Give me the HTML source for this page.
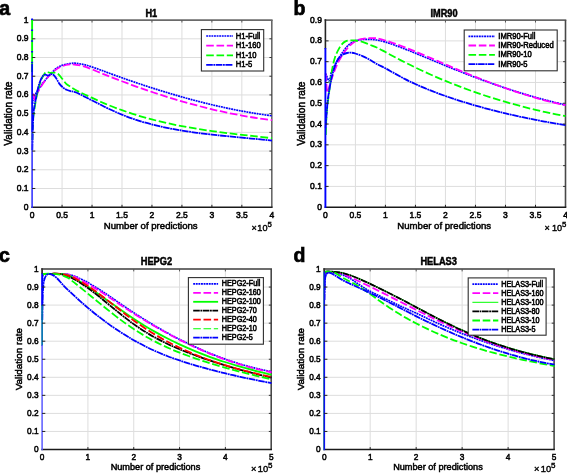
<!DOCTYPE html>
<html><head><meta charset="utf-8"><title>Validation rate figure</title>
<style>
html,body{margin:0;padding:0;background:#fff;}
svg{display:block;font-family:"Liberation Sans",Arial,Helvetica,sans-serif;fill:#000;}
</style></head><body>
<svg width="567" height="473" viewBox="0 0 567 473">
<rect width="567" height="473" fill="#fff"/>
<defs><clipPath id="ca"><rect x="31.10" y="19.10" width="241.70" height="189.10"/></clipPath><clipPath id="cb"><rect x="324.40" y="19.10" width="242.10" height="189.10"/></clipPath><clipPath id="cc"><rect x="41.10" y="268.00" width="231.10" height="182.50"/></clipPath><clipPath id="cd"><rect x="323.20" y="268.00" width="231.90" height="182.50"/></clipPath></defs>
<line x1="62.06" y1="20.10" x2="62.06" y2="207.20" stroke="#dddddd" stroke-width="1.00" />
<line x1="92.03" y1="20.10" x2="92.03" y2="207.20" stroke="#dddddd" stroke-width="1.00" />
<line x1="121.99" y1="20.10" x2="121.99" y2="207.20" stroke="#dddddd" stroke-width="1.00" />
<line x1="151.95" y1="20.10" x2="151.95" y2="207.20" stroke="#dddddd" stroke-width="1.00" />
<line x1="181.91" y1="20.10" x2="181.91" y2="207.20" stroke="#dddddd" stroke-width="1.00" />
<line x1="211.88" y1="20.10" x2="211.88" y2="207.20" stroke="#dddddd" stroke-width="1.00" />
<line x1="241.84" y1="20.10" x2="241.84" y2="207.20" stroke="#dddddd" stroke-width="1.00" />
<line x1="32.10" y1="188.49" x2="271.80" y2="188.49" stroke="#dddddd" stroke-width="1.00" />
<line x1="32.10" y1="169.78" x2="271.80" y2="169.78" stroke="#dddddd" stroke-width="1.00" />
<line x1="32.10" y1="151.07" x2="271.80" y2="151.07" stroke="#dddddd" stroke-width="1.00" />
<line x1="32.10" y1="132.36" x2="271.80" y2="132.36" stroke="#dddddd" stroke-width="1.00" />
<line x1="32.10" y1="113.65" x2="271.80" y2="113.65" stroke="#dddddd" stroke-width="1.00" />
<line x1="32.10" y1="94.94" x2="271.80" y2="94.94" stroke="#dddddd" stroke-width="1.00" />
<line x1="32.10" y1="76.23" x2="271.80" y2="76.23" stroke="#dddddd" stroke-width="1.00" />
<line x1="32.10" y1="57.52" x2="271.80" y2="57.52" stroke="#dddddd" stroke-width="1.00" />
<line x1="32.10" y1="38.81" x2="271.80" y2="38.81" stroke="#dddddd" stroke-width="1.00" />
<line x1="31.30" y1="20.10" x2="272.60" y2="20.10" stroke="#6a6a6a" stroke-width="1.70" />
<line x1="271.80" y1="20.10" x2="271.80" y2="207.20" stroke="#686868" stroke-width="1.60" />
<line x1="31.30" y1="207.20" x2="272.60" y2="207.20" stroke="#1a1a1a" stroke-width="1.40" />
<g clip-path="url(#ca)">
<path d="M32.60 104.00 C32.72 103.17 32.65 100.92 33.30 99.00 C33.95 97.08 35.02 95.00 36.50 92.50 C37.98 90.00 40.08 86.83 42.20 84.00 C44.32 81.17 46.85 78.10 49.20 75.50 C51.55 72.90 53.93 70.17 56.30 68.40 C58.67 66.63 61.03 65.72 63.40 64.90 C65.77 64.08 68.62 63.78 70.50 63.50 C72.38 63.22 73.28 63.17 74.70 63.20 C76.12 63.23 76.87 63.32 79.00 63.70 C81.13 64.08 84.20 64.52 87.50 65.46 C90.80 66.40 95.38 68.14 98.80 69.35 C102.22 70.56 104.15 71.34 108.00 72.74 C111.85 74.14 117.08 76.04 121.90 77.74 C126.72 79.44 131.90 81.25 136.90 82.94 C141.90 84.63 146.90 86.30 151.90 87.90 C156.90 89.50 161.92 91.06 166.90 92.56 C171.88 94.06 176.80 95.52 181.80 96.92 C186.80 98.33 191.88 99.69 196.90 100.99 C201.92 102.29 206.90 103.54 211.90 104.72 C216.90 105.90 221.88 107.03 226.90 108.09 C231.92 109.15 236.98 110.15 242.00 111.08 C247.02 112.01 252.00 112.87 257.00 113.66 C262.00 114.45 269.50 115.47 272.00 115.83" fill="none" stroke="#0000ff" stroke-width="1.70" stroke-dasharray="1.9 0.7" stroke-linejoin="round"/>
<path d="M32.60 95.00 C32.75 94.92 33.18 93.73 33.50 94.50 C33.82 95.27 34.12 99.18 34.50 99.60 C34.88 100.02 35.32 98.08 35.80 97.00 C36.28 95.92 36.50 94.87 37.40 93.10 C38.30 91.33 39.93 88.47 41.20 86.40 C42.47 84.33 43.57 82.60 45.00 80.70 C46.43 78.80 48.20 76.68 49.80 75.00 C51.40 73.32 52.85 71.93 54.60 70.60 C56.35 69.27 58.40 67.93 60.30 67.00 C62.20 66.07 64.30 65.43 66.00 65.00 C67.70 64.57 69.05 64.47 70.50 64.40 C71.95 64.33 72.33 64.23 74.70 64.60 C77.07 64.96 80.68 65.32 84.70 66.59 C88.72 67.86 94.92 70.65 98.80 72.20 C102.68 73.75 104.15 74.38 108.00 75.89 C111.85 77.40 117.08 79.45 121.90 81.27 C126.72 83.08 131.90 85.00 136.90 86.78 C141.90 88.56 146.90 90.30 151.90 91.97 C156.90 93.64 161.92 95.26 166.90 96.82 C171.88 98.38 176.80 99.88 181.80 101.32 C186.80 102.76 191.88 104.16 196.90 105.48 C201.92 106.80 206.90 108.07 211.90 109.26 C216.90 110.45 221.88 111.57 226.90 112.63 C231.92 113.69 236.98 114.68 242.00 115.59 C247.02 116.50 252.00 117.33 257.00 118.09 C262.00 118.85 269.50 119.81 272.00 120.15" fill="none" stroke="#ff00ff" stroke-width="1.80" stroke-dasharray="7.6 2.7" stroke-linejoin="round"/>
<path d="M32.30 140.00 C32.38 136.95 32.42 127.03 32.80 121.70 C33.18 116.37 33.98 112.12 34.60 108.00 C35.22 103.88 35.72 100.75 36.50 97.00 C37.28 93.25 38.35 88.68 39.30 85.50 C40.25 82.32 41.25 79.98 42.20 77.90 C43.15 75.82 44.20 73.97 45.00 73.00 C45.80 72.03 46.03 72.10 47.00 72.10 C47.97 72.10 49.53 72.90 50.80 73.00 C52.07 73.10 53.33 72.50 54.60 72.70 C55.87 72.90 57.13 73.18 58.40 74.20 C59.67 75.22 60.93 77.23 62.20 78.80 C63.47 80.37 64.62 82.27 66.00 83.60 C67.38 84.93 68.57 85.55 70.50 86.80 C72.43 88.05 75.23 89.82 77.60 91.10 C79.97 92.38 82.35 93.40 84.70 94.50 C87.05 95.60 89.15 96.53 91.70 97.69 C94.25 98.85 97.28 100.29 100.00 101.49 C102.72 102.69 104.35 103.44 108.00 104.89 C111.65 106.34 117.08 108.49 121.90 110.20 C126.72 111.91 131.90 113.63 136.90 115.17 C141.90 116.71 146.90 118.11 151.90 119.42 C156.90 120.73 161.92 121.92 166.90 123.04 C171.88 124.16 176.80 125.17 181.80 126.12 C186.80 127.08 191.88 127.95 196.90 128.77 C201.92 129.59 206.90 130.33 211.90 131.04 C216.90 131.75 221.88 132.40 226.90 133.03 C231.92 133.66 236.98 134.25 242.00 134.83 C247.02 135.41 252.00 135.95 257.00 136.51 C262.00 137.07 269.50 137.89 272.00 138.17" fill="none" stroke="#00ff00" stroke-width="1.80" stroke-dasharray="7.6 2.7" stroke-linejoin="round"/>
<path d="M32.30 150.00 C32.38 146.83 32.58 137.33 32.80 131.00 C33.02 124.67 33.15 117.05 33.60 112.00 C34.05 106.95 34.87 104.20 35.50 100.70 C36.13 97.20 36.77 93.85 37.40 91.00 C38.03 88.15 38.50 85.95 39.30 83.60 C40.10 81.25 41.25 78.40 42.20 76.90 C43.15 75.40 44.05 74.82 45.00 74.60 C45.95 74.38 46.93 75.67 47.90 75.60 C48.87 75.53 49.85 74.30 50.80 74.20 C51.75 74.10 52.65 74.23 53.60 75.00 C54.55 75.77 55.55 77.37 56.50 78.80 C57.45 80.23 58.20 82.13 59.30 83.60 C60.40 85.07 61.90 86.57 63.10 87.60 C64.30 88.63 65.27 89.22 66.50 89.80 C67.73 90.38 68.88 90.65 70.50 91.10 C72.12 91.55 73.83 91.57 76.20 92.50 C78.57 93.43 82.12 95.40 84.70 96.70 C87.28 98.00 89.15 99.01 91.70 100.30 C94.25 101.59 97.28 103.10 100.00 104.46 C102.72 105.82 104.35 106.78 108.00 108.48 C111.65 110.18 117.08 112.72 121.90 114.66 C126.72 116.60 131.90 118.47 136.90 120.10 C141.90 121.73 146.90 123.14 151.90 124.43 C156.90 125.72 161.92 126.83 166.90 127.85 C171.88 128.87 176.80 129.75 181.80 130.57 C186.80 131.39 191.88 132.11 196.90 132.79 C201.92 133.47 206.90 134.05 211.90 134.62 C216.90 135.19 221.88 135.69 226.90 136.19 C231.92 136.69 236.98 137.16 242.00 137.64 C247.02 138.12 252.00 138.58 257.00 139.08 C262.00 139.58 269.50 140.39 272.00 140.65" fill="none" stroke="#0000ff" stroke-width="1.80" stroke-dasharray="6.6 0.6 1.8 0.6" stroke-linejoin="round"/>
</g>
<line x1="32.10" y1="19.20" x2="32.10" y2="72.00" stroke="#00ff00" stroke-width="1.90" />
<line x1="32.10" y1="64.00" x2="32.10" y2="132.00" stroke="#0000ff" stroke-width="1.70" />
<line x1="32.10" y1="130.00" x2="32.10" y2="207.90" stroke="#2a2aff" stroke-width="1.50" />
<line x1="32.10" y1="18.60" x2="32.10" y2="66.00" stroke="#0000ff" stroke-width="1.90" stroke-dasharray="1.5 9.3" />
<line x1="62.06" y1="207.20" x2="62.06" y2="204.80" stroke="#222" stroke-width="1.00" />
<line x1="62.06" y1="20.10" x2="62.06" y2="22.50" stroke="#555" stroke-width="1.00" />
<line x1="92.03" y1="207.20" x2="92.03" y2="204.80" stroke="#222" stroke-width="1.00" />
<line x1="92.03" y1="20.10" x2="92.03" y2="22.50" stroke="#555" stroke-width="1.00" />
<line x1="121.99" y1="207.20" x2="121.99" y2="204.80" stroke="#222" stroke-width="1.00" />
<line x1="121.99" y1="20.10" x2="121.99" y2="22.50" stroke="#555" stroke-width="1.00" />
<line x1="151.95" y1="207.20" x2="151.95" y2="204.80" stroke="#222" stroke-width="1.00" />
<line x1="151.95" y1="20.10" x2="151.95" y2="22.50" stroke="#555" stroke-width="1.00" />
<line x1="181.91" y1="207.20" x2="181.91" y2="204.80" stroke="#222" stroke-width="1.00" />
<line x1="181.91" y1="20.10" x2="181.91" y2="22.50" stroke="#555" stroke-width="1.00" />
<line x1="211.88" y1="207.20" x2="211.88" y2="204.80" stroke="#222" stroke-width="1.00" />
<line x1="211.88" y1="20.10" x2="211.88" y2="22.50" stroke="#555" stroke-width="1.00" />
<line x1="241.84" y1="207.20" x2="241.84" y2="204.80" stroke="#222" stroke-width="1.00" />
<line x1="241.84" y1="20.10" x2="241.84" y2="22.50" stroke="#555" stroke-width="1.00" />
<line x1="32.10" y1="188.49" x2="35.30" y2="188.49" stroke="#222" stroke-width="1.00" />
<line x1="271.80" y1="188.49" x2="269.40" y2="188.49" stroke="#333" stroke-width="1.00" />
<line x1="32.10" y1="169.78" x2="35.30" y2="169.78" stroke="#222" stroke-width="1.00" />
<line x1="271.80" y1="169.78" x2="269.40" y2="169.78" stroke="#333" stroke-width="1.00" />
<line x1="32.10" y1="151.07" x2="35.30" y2="151.07" stroke="#222" stroke-width="1.00" />
<line x1="271.80" y1="151.07" x2="269.40" y2="151.07" stroke="#333" stroke-width="1.00" />
<line x1="32.10" y1="132.36" x2="35.30" y2="132.36" stroke="#222" stroke-width="1.00" />
<line x1="271.80" y1="132.36" x2="269.40" y2="132.36" stroke="#333" stroke-width="1.00" />
<line x1="32.10" y1="113.65" x2="35.30" y2="113.65" stroke="#222" stroke-width="1.00" />
<line x1="271.80" y1="113.65" x2="269.40" y2="113.65" stroke="#333" stroke-width="1.00" />
<line x1="32.10" y1="94.94" x2="35.30" y2="94.94" stroke="#222" stroke-width="1.00" />
<line x1="271.80" y1="94.94" x2="269.40" y2="94.94" stroke="#333" stroke-width="1.00" />
<line x1="32.10" y1="76.23" x2="35.30" y2="76.23" stroke="#222" stroke-width="1.00" />
<line x1="271.80" y1="76.23" x2="269.40" y2="76.23" stroke="#333" stroke-width="1.00" />
<line x1="32.10" y1="57.52" x2="35.30" y2="57.52" stroke="#222" stroke-width="1.00" />
<line x1="271.80" y1="57.52" x2="269.40" y2="57.52" stroke="#333" stroke-width="1.00" />
<line x1="32.10" y1="38.81" x2="35.30" y2="38.81" stroke="#222" stroke-width="1.00" />
<line x1="271.80" y1="38.81" x2="269.40" y2="38.81" stroke="#333" stroke-width="1.00" />
<text transform="translate(32.10 218.40) scale(0.880 1)" font-size="9.70" text-anchor="middle" font-weight="normal" stroke="#000" stroke-width="0.55" >0</text>
<text transform="translate(62.06 218.40) scale(0.880 1)" font-size="9.70" text-anchor="middle" font-weight="normal" stroke="#000" stroke-width="0.55" >0.5</text>
<text transform="translate(92.03 218.40) scale(0.880 1)" font-size="9.70" text-anchor="middle" font-weight="normal" stroke="#000" stroke-width="0.55" >1</text>
<text transform="translate(121.99 218.40) scale(0.880 1)" font-size="9.70" text-anchor="middle" font-weight="normal" stroke="#000" stroke-width="0.55" >1.5</text>
<text transform="translate(151.95 218.40) scale(0.880 1)" font-size="9.70" text-anchor="middle" font-weight="normal" stroke="#000" stroke-width="0.55" >2</text>
<text transform="translate(181.91 218.40) scale(0.880 1)" font-size="9.70" text-anchor="middle" font-weight="normal" stroke="#000" stroke-width="0.55" >2.5</text>
<text transform="translate(211.88 218.40) scale(0.880 1)" font-size="9.70" text-anchor="middle" font-weight="normal" stroke="#000" stroke-width="0.55" >3</text>
<text transform="translate(241.84 218.40) scale(0.880 1)" font-size="9.70" text-anchor="middle" font-weight="normal" stroke="#000" stroke-width="0.55" >3.5</text>
<text transform="translate(271.80 218.40) scale(0.880 1)" font-size="9.70" text-anchor="middle" font-weight="normal" stroke="#000" stroke-width="0.55" >4</text>
<text transform="translate(28.60 209.67) scale(0.880 1)" font-size="9.70" text-anchor="end" font-weight="normal" stroke="#000" stroke-width="0.55" >0</text>
<text transform="translate(28.60 190.96) scale(0.880 1)" font-size="9.70" text-anchor="end" font-weight="normal" stroke="#000" stroke-width="0.55" >0.1</text>
<text transform="translate(28.60 172.25) scale(0.880 1)" font-size="9.70" text-anchor="end" font-weight="normal" stroke="#000" stroke-width="0.55" >0.2</text>
<text transform="translate(28.60 153.54) scale(0.880 1)" font-size="9.70" text-anchor="end" font-weight="normal" stroke="#000" stroke-width="0.55" >0.3</text>
<text transform="translate(28.60 134.83) scale(0.880 1)" font-size="9.70" text-anchor="end" font-weight="normal" stroke="#000" stroke-width="0.55" >0.4</text>
<text transform="translate(28.60 116.12) scale(0.880 1)" font-size="9.70" text-anchor="end" font-weight="normal" stroke="#000" stroke-width="0.55" >0.5</text>
<text transform="translate(28.60 97.41) scale(0.880 1)" font-size="9.70" text-anchor="end" font-weight="normal" stroke="#000" stroke-width="0.55" >0.6</text>
<text transform="translate(28.60 78.70) scale(0.880 1)" font-size="9.70" text-anchor="end" font-weight="normal" stroke="#000" stroke-width="0.55" >0.7</text>
<text transform="translate(28.60 59.99) scale(0.880 1)" font-size="9.70" text-anchor="end" font-weight="normal" stroke="#000" stroke-width="0.55" >0.8</text>
<text transform="translate(28.60 41.28) scale(0.880 1)" font-size="9.70" text-anchor="end" font-weight="normal" stroke="#000" stroke-width="0.55" >0.9</text>
<text transform="translate(28.60 22.57) scale(0.880 1)" font-size="9.70" text-anchor="end" font-weight="normal" stroke="#000" stroke-width="0.55" >1</text>
<text transform="translate(150.75 229.00) scale(0.990 1)" font-size="9.70" text-anchor="middle" font-weight="normal" stroke="#000" stroke-width="0.50" >Number of predictions</text>
<text transform="translate(11.50 113.65) rotate(-90)" font-size="10.15" text-anchor="middle" font-weight="normal" stroke="#000" stroke-width="0.50" >Validation rate</text>
<text transform="translate(151.35 16.80) scale(0.920 1)" font-size="10.00" text-anchor="middle" font-weight="bold" stroke="#000" stroke-width="0.50" >H1</text>
<text x="251.60" y="231.00" font-size="9.12" stroke="#000" stroke-width="0.39">×<tspan dx="0.40">10</tspan><tspan dy="-3.83" font-size="7.84">5</tspan></text>
<text transform="translate(-0.80 14.60)" font-size="19.50" text-anchor="start" font-weight="bold" stroke="#000" stroke-width="0.70" >a</text>
<rect x="201.40" y="29.60" width="62.30" height="41.40" fill="#fff" stroke="#2e2e2e" stroke-width="1.1"/>
<line x1="206.20" y1="36.00" x2="233.00" y2="36.00" stroke="#0000ff" stroke-width="1.70" stroke-dasharray="1.9 0.7" />
<text transform="translate(235.80 38.50) scale(0.875 1)" font-size="8.70" text-anchor="start" font-weight="normal" stroke="#000" stroke-width="0.55" >H1-Full</text>
<line x1="206.20" y1="45.70" x2="233.00" y2="45.70" stroke="#ff00ff" stroke-width="1.80" stroke-dasharray="7.6 2.7" />
<text transform="translate(235.80 48.20) scale(0.875 1)" font-size="8.70" text-anchor="start" font-weight="normal" stroke="#000" stroke-width="0.55" >H1-160</text>
<line x1="206.20" y1="55.30" x2="233.00" y2="55.30" stroke="#00ff00" stroke-width="1.80" stroke-dasharray="7.6 2.7" />
<text transform="translate(235.80 57.80) scale(0.875 1)" font-size="8.70" text-anchor="start" font-weight="normal" stroke="#000" stroke-width="0.55" >H1-10</text>
<line x1="206.20" y1="64.90" x2="233.00" y2="64.90" stroke="#0000ff" stroke-width="1.80" stroke-dasharray="6.6 0.6 1.8 0.6" />
<text transform="translate(235.80 67.40) scale(0.875 1)" font-size="8.70" text-anchor="start" font-weight="normal" stroke="#000" stroke-width="0.55" >H1-5</text>
<line x1="355.41" y1="20.10" x2="355.41" y2="207.20" stroke="#dddddd" stroke-width="1.00" />
<line x1="385.42" y1="20.10" x2="385.42" y2="207.20" stroke="#dddddd" stroke-width="1.00" />
<line x1="415.44" y1="20.10" x2="415.44" y2="207.20" stroke="#dddddd" stroke-width="1.00" />
<line x1="445.45" y1="20.10" x2="445.45" y2="207.20" stroke="#dddddd" stroke-width="1.00" />
<line x1="475.46" y1="20.10" x2="475.46" y2="207.20" stroke="#dddddd" stroke-width="1.00" />
<line x1="505.48" y1="20.10" x2="505.48" y2="207.20" stroke="#dddddd" stroke-width="1.00" />
<line x1="535.49" y1="20.10" x2="535.49" y2="207.20" stroke="#dddddd" stroke-width="1.00" />
<line x1="325.40" y1="186.41" x2="565.50" y2="186.41" stroke="#dddddd" stroke-width="1.00" />
<line x1="325.40" y1="165.62" x2="565.50" y2="165.62" stroke="#dddddd" stroke-width="1.00" />
<line x1="325.40" y1="144.83" x2="565.50" y2="144.83" stroke="#dddddd" stroke-width="1.00" />
<line x1="325.40" y1="124.04" x2="565.50" y2="124.04" stroke="#dddddd" stroke-width="1.00" />
<line x1="325.40" y1="103.26" x2="565.50" y2="103.26" stroke="#dddddd" stroke-width="1.00" />
<line x1="325.40" y1="82.47" x2="565.50" y2="82.47" stroke="#dddddd" stroke-width="1.00" />
<line x1="325.40" y1="61.68" x2="565.50" y2="61.68" stroke="#dddddd" stroke-width="1.00" />
<line x1="325.40" y1="40.89" x2="565.50" y2="40.89" stroke="#dddddd" stroke-width="1.00" />
<line x1="324.60" y1="20.10" x2="566.30" y2="20.10" stroke="#686868" stroke-width="1.70" />
<line x1="565.50" y1="20.10" x2="565.50" y2="207.20" stroke="#484848" stroke-width="1.60" />
<line x1="324.60" y1="207.20" x2="566.30" y2="207.20" stroke="#1a1a1a" stroke-width="1.40" />
<g clip-path="url(#cb)">
<path d="M325.60 73.50 C325.88 74.17 326.75 76.25 327.30 77.50 C327.85 78.75 328.42 80.92 328.90 81.00 C329.38 81.08 329.80 79.40 330.20 78.00 C330.60 76.60 330.63 74.57 331.30 72.60 C331.97 70.63 333.02 68.50 334.20 66.20 C335.38 63.90 336.98 61.12 338.40 58.80 C339.82 56.48 341.05 54.55 342.70 52.30 C344.35 50.05 346.18 47.20 348.30 45.30 C350.42 43.40 353.03 41.87 355.40 40.90 C357.77 39.93 360.13 39.75 362.50 39.50 C364.87 39.25 367.23 39.31 369.60 39.40 C371.97 39.49 374.07 39.59 376.70 40.02 C379.33 40.46 382.35 41.14 385.40 42.01 C388.45 42.88 391.72 44.08 395.00 45.26 C398.28 46.44 401.72 47.77 405.10 49.08 C408.48 50.39 411.08 51.42 415.30 53.14 C419.52 54.86 425.37 57.32 430.40 59.41 C435.43 61.50 440.47 63.64 445.50 65.70 C450.53 67.76 455.58 69.79 460.60 71.76 C465.62 73.73 470.60 75.67 475.60 77.54 C480.60 79.42 485.60 81.24 490.60 83.01 C495.60 84.78 500.60 86.49 505.60 88.14 C510.60 89.79 515.60 91.40 520.60 92.93 C525.60 94.47 530.62 95.95 535.60 97.35 C540.58 98.75 545.52 100.08 550.50 101.35 C555.48 102.61 563.00 104.34 565.50 104.94" fill="none" stroke="#0000ff" stroke-width="1.70" stroke-dasharray="1.9 0.7" stroke-linejoin="round"/>
<path d="M325.60 73.50 C325.73 75.25 326.13 80.83 326.40 84.00 C326.67 87.17 326.87 91.50 327.20 92.50 C327.53 93.50 328.00 91.17 328.40 90.00 C328.80 88.83 328.95 87.67 329.60 85.50 C330.25 83.33 331.07 80.45 332.30 77.00 C333.53 73.55 335.25 68.58 337.00 64.80 C338.75 61.02 340.88 57.27 342.80 54.30 C344.72 51.33 346.40 49.18 348.50 47.00 C350.60 44.82 353.07 42.57 355.40 41.20 C357.73 39.83 360.13 39.32 362.50 38.80 C364.87 38.28 367.23 38.18 369.60 38.10 C371.97 38.02 374.07 37.94 376.70 38.34 C379.33 38.74 382.35 39.60 385.40 40.49 C388.45 41.38 391.72 42.54 395.00 43.70 C398.28 44.86 401.72 46.16 405.10 47.46 C408.48 48.77 411.08 49.79 415.30 51.53 C419.52 53.27 425.37 55.76 430.40 57.91 C435.43 60.06 440.47 62.29 445.50 64.44 C450.53 66.59 455.58 68.72 460.60 70.81 C465.62 72.90 470.60 74.96 475.60 76.95 C480.60 78.94 485.60 80.89 490.60 82.77 C495.60 84.65 500.60 86.48 505.60 88.23 C510.60 89.98 515.60 91.67 520.60 93.27 C525.60 94.87 530.62 96.40 535.60 97.82 C540.58 99.24 545.52 100.58 550.50 101.81 C555.48 103.04 563.00 104.64 565.50 105.20" fill="none" stroke="#ff00ff" stroke-width="1.80" stroke-dasharray="7.6 2.7" stroke-linejoin="round"/>
<path d="M325.80 135.00 C325.93 131.50 326.15 120.33 326.60 114.00 C327.05 107.67 327.87 102.33 328.50 97.00 C329.13 91.67 329.77 86.73 330.40 82.00 C331.03 77.27 331.52 72.77 332.30 68.60 C333.08 64.43 333.98 60.33 335.10 57.00 C336.22 53.67 337.77 50.83 339.00 48.60 C340.23 46.37 341.42 44.80 342.50 43.60 C343.58 42.40 344.45 41.92 345.50 41.40 C346.55 40.88 347.15 40.65 348.80 40.50 C350.45 40.35 353.12 40.27 355.40 40.50 C357.68 40.73 360.13 41.20 362.50 41.90 C364.87 42.60 367.23 43.77 369.60 44.70 C371.97 45.63 374.07 46.24 376.70 47.47 C379.33 48.70 382.35 50.43 385.40 52.06 C388.45 53.69 391.72 55.51 395.00 57.25 C398.28 58.99 401.72 60.79 405.10 62.50 C408.48 64.21 411.08 65.49 415.30 67.49 C419.52 69.49 425.37 72.24 430.40 74.48 C435.43 76.72 440.47 78.88 445.50 80.95 C450.53 83.02 455.58 85.00 460.60 86.90 C465.62 88.80 470.60 90.62 475.60 92.37 C480.60 94.12 485.60 95.78 490.60 97.38 C495.60 98.97 500.60 100.49 505.60 101.94 C510.60 103.39 515.60 104.78 520.60 106.10 C525.60 107.42 530.62 108.66 535.60 109.85 C540.58 111.04 545.52 112.16 550.50 113.22 C555.48 114.28 563.00 115.73 565.50 116.23" fill="none" stroke="#00ff00" stroke-width="1.80" stroke-dasharray="7.6 2.7" stroke-linejoin="round"/>
<path d="M325.60 128.00 C325.92 123.82 326.87 109.32 327.50 102.90 C328.13 96.48 328.77 93.48 329.40 89.50 C330.03 85.52 330.62 82.17 331.30 79.00 C331.98 75.83 332.72 73.08 333.50 70.50 C334.28 67.92 335.15 65.52 336.00 63.50 C336.85 61.48 337.48 59.88 338.60 58.40 C339.72 56.92 341.32 55.50 342.70 54.60 C344.08 53.70 345.48 53.32 346.90 53.00 C348.32 52.68 349.78 52.62 351.20 52.70 C352.62 52.78 353.52 52.93 355.40 53.50 C357.28 54.07 360.13 55.08 362.50 56.10 C364.87 57.12 367.23 58.30 369.60 59.60 C371.97 60.90 374.07 62.47 376.70 63.92 C379.33 65.37 382.35 66.68 385.40 68.30 C388.45 69.92 391.72 71.82 395.00 73.62 C398.28 75.42 401.72 77.39 405.10 79.12 C408.48 80.86 411.08 82.14 415.30 84.03 C419.52 85.92 425.37 88.43 430.40 90.43 C435.43 92.43 440.47 94.25 445.50 96.02 C450.53 97.79 455.58 99.44 460.60 101.04 C465.62 102.64 470.60 104.16 475.60 105.60 C480.60 107.04 485.60 108.40 490.60 109.71 C495.60 111.02 500.60 112.26 505.60 113.44 C510.60 114.62 515.60 115.74 520.60 116.81 C525.60 117.88 530.62 118.89 535.60 119.86 C540.58 120.83 545.52 121.75 550.50 122.63 C555.48 123.51 563.00 124.74 565.50 125.16" fill="none" stroke="#0000ff" stroke-width="1.80" stroke-dasharray="6.6 0.6 1.8 0.6" stroke-linejoin="round"/>
</g>
<line x1="325.40" y1="19.20" x2="325.40" y2="49.00" stroke="#252525" stroke-width="1.60" />
<line x1="325.40" y1="48.00" x2="325.40" y2="207.90" stroke="#0000ff" stroke-width="1.90" />
<line x1="355.41" y1="207.20" x2="355.41" y2="204.80" stroke="#222" stroke-width="1.00" />
<line x1="355.41" y1="20.10" x2="355.41" y2="22.50" stroke="#555" stroke-width="1.00" />
<line x1="385.42" y1="207.20" x2="385.42" y2="204.80" stroke="#222" stroke-width="1.00" />
<line x1="385.42" y1="20.10" x2="385.42" y2="22.50" stroke="#555" stroke-width="1.00" />
<line x1="415.44" y1="207.20" x2="415.44" y2="204.80" stroke="#222" stroke-width="1.00" />
<line x1="415.44" y1="20.10" x2="415.44" y2="22.50" stroke="#555" stroke-width="1.00" />
<line x1="445.45" y1="207.20" x2="445.45" y2="204.80" stroke="#222" stroke-width="1.00" />
<line x1="445.45" y1="20.10" x2="445.45" y2="22.50" stroke="#555" stroke-width="1.00" />
<line x1="475.46" y1="207.20" x2="475.46" y2="204.80" stroke="#222" stroke-width="1.00" />
<line x1="475.46" y1="20.10" x2="475.46" y2="22.50" stroke="#555" stroke-width="1.00" />
<line x1="505.48" y1="207.20" x2="505.48" y2="204.80" stroke="#222" stroke-width="1.00" />
<line x1="505.48" y1="20.10" x2="505.48" y2="22.50" stroke="#555" stroke-width="1.00" />
<line x1="535.49" y1="207.20" x2="535.49" y2="204.80" stroke="#222" stroke-width="1.00" />
<line x1="535.49" y1="20.10" x2="535.49" y2="22.50" stroke="#555" stroke-width="1.00" />
<line x1="325.40" y1="186.41" x2="328.60" y2="186.41" stroke="#222" stroke-width="1.00" />
<line x1="565.50" y1="186.41" x2="563.10" y2="186.41" stroke="#333" stroke-width="1.00" />
<line x1="325.40" y1="165.62" x2="328.60" y2="165.62" stroke="#222" stroke-width="1.00" />
<line x1="565.50" y1="165.62" x2="563.10" y2="165.62" stroke="#333" stroke-width="1.00" />
<line x1="325.40" y1="144.83" x2="328.60" y2="144.83" stroke="#222" stroke-width="1.00" />
<line x1="565.50" y1="144.83" x2="563.10" y2="144.83" stroke="#333" stroke-width="1.00" />
<line x1="325.40" y1="124.04" x2="328.60" y2="124.04" stroke="#222" stroke-width="1.00" />
<line x1="565.50" y1="124.04" x2="563.10" y2="124.04" stroke="#333" stroke-width="1.00" />
<line x1="325.40" y1="103.26" x2="328.60" y2="103.26" stroke="#222" stroke-width="1.00" />
<line x1="565.50" y1="103.26" x2="563.10" y2="103.26" stroke="#333" stroke-width="1.00" />
<line x1="325.40" y1="82.47" x2="328.60" y2="82.47" stroke="#222" stroke-width="1.00" />
<line x1="565.50" y1="82.47" x2="563.10" y2="82.47" stroke="#333" stroke-width="1.00" />
<line x1="325.40" y1="61.68" x2="328.60" y2="61.68" stroke="#222" stroke-width="1.00" />
<line x1="565.50" y1="61.68" x2="563.10" y2="61.68" stroke="#333" stroke-width="1.00" />
<line x1="325.40" y1="40.89" x2="328.60" y2="40.89" stroke="#222" stroke-width="1.00" />
<line x1="565.50" y1="40.89" x2="563.10" y2="40.89" stroke="#333" stroke-width="1.00" />
<text transform="translate(325.40 218.40) scale(0.880 1)" font-size="9.70" text-anchor="middle" font-weight="normal" stroke="#000" stroke-width="0.55" >0</text>
<text transform="translate(355.41 218.40) scale(0.880 1)" font-size="9.70" text-anchor="middle" font-weight="normal" stroke="#000" stroke-width="0.55" >0.5</text>
<text transform="translate(385.42 218.40) scale(0.880 1)" font-size="9.70" text-anchor="middle" font-weight="normal" stroke="#000" stroke-width="0.55" >1</text>
<text transform="translate(415.44 218.40) scale(0.880 1)" font-size="9.70" text-anchor="middle" font-weight="normal" stroke="#000" stroke-width="0.55" >1.5</text>
<text transform="translate(445.45 218.40) scale(0.880 1)" font-size="9.70" text-anchor="middle" font-weight="normal" stroke="#000" stroke-width="0.55" >2</text>
<text transform="translate(475.46 218.40) scale(0.880 1)" font-size="9.70" text-anchor="middle" font-weight="normal" stroke="#000" stroke-width="0.55" >2.5</text>
<text transform="translate(505.48 218.40) scale(0.880 1)" font-size="9.70" text-anchor="middle" font-weight="normal" stroke="#000" stroke-width="0.55" >3</text>
<text transform="translate(535.49 218.40) scale(0.880 1)" font-size="9.70" text-anchor="middle" font-weight="normal" stroke="#000" stroke-width="0.55" >3.5</text>
<text transform="translate(565.50 218.40) scale(0.880 1)" font-size="9.70" text-anchor="middle" font-weight="normal" stroke="#000" stroke-width="0.55" >4</text>
<text transform="translate(321.90 209.67) scale(0.880 1)" font-size="9.70" text-anchor="end" font-weight="normal" stroke="#000" stroke-width="0.55" >0</text>
<text transform="translate(321.90 188.88) scale(0.880 1)" font-size="9.70" text-anchor="end" font-weight="normal" stroke="#000" stroke-width="0.55" >0.1</text>
<text transform="translate(321.90 168.09) scale(0.880 1)" font-size="9.70" text-anchor="end" font-weight="normal" stroke="#000" stroke-width="0.55" >0.2</text>
<text transform="translate(321.90 147.31) scale(0.880 1)" font-size="9.70" text-anchor="end" font-weight="normal" stroke="#000" stroke-width="0.55" >0.3</text>
<text transform="translate(321.90 126.52) scale(0.880 1)" font-size="9.70" text-anchor="end" font-weight="normal" stroke="#000" stroke-width="0.55" >0.4</text>
<text transform="translate(321.90 105.73) scale(0.880 1)" font-size="9.70" text-anchor="end" font-weight="normal" stroke="#000" stroke-width="0.55" >0.5</text>
<text transform="translate(321.90 84.94) scale(0.880 1)" font-size="9.70" text-anchor="end" font-weight="normal" stroke="#000" stroke-width="0.55" >0.6</text>
<text transform="translate(321.90 64.15) scale(0.880 1)" font-size="9.70" text-anchor="end" font-weight="normal" stroke="#000" stroke-width="0.55" >0.7</text>
<text transform="translate(321.90 43.36) scale(0.880 1)" font-size="9.70" text-anchor="end" font-weight="normal" stroke="#000" stroke-width="0.55" >0.8</text>
<text transform="translate(321.90 22.57) scale(0.880 1)" font-size="9.70" text-anchor="end" font-weight="normal" stroke="#000" stroke-width="0.55" >0.9</text>
<text transform="translate(444.25 229.00) scale(0.990 1)" font-size="9.70" text-anchor="middle" font-weight="normal" stroke="#000" stroke-width="0.50" >Number of predictions</text>
<text transform="translate(305.40 113.65) rotate(-90)" font-size="10.15" text-anchor="middle" font-weight="normal" stroke="#000" stroke-width="0.50" >Validation rate</text>
<text transform="translate(444.05 16.80) scale(0.920 1)" font-size="10.00" text-anchor="middle" font-weight="bold" stroke="#000" stroke-width="0.50" >IMR90</text>
<text x="544.60" y="231.00" font-size="9.12" stroke="#000" stroke-width="0.39">×<tspan dx="2.00">10</tspan><tspan dy="-3.83" font-size="7.84">5</tspan></text>
<text transform="translate(293.40 14.60)" font-size="19.50" text-anchor="start" font-weight="bold" stroke="#000" stroke-width="0.70" >b</text>
<rect x="464.20" y="30.00" width="93.00" height="40.80" fill="#fff" stroke="#2e2e2e" stroke-width="1.1"/>
<line x1="468.50" y1="36.30" x2="494.90" y2="36.30" stroke="#0000ff" stroke-width="1.70" stroke-dasharray="1.9 0.7" />
<text transform="translate(498.30 38.80) scale(0.875 1)" font-size="8.70" text-anchor="start" font-weight="normal" stroke="#000" stroke-width="0.55" >IMR90-Full</text>
<line x1="468.50" y1="45.50" x2="494.90" y2="45.50" stroke="#ff00ff" stroke-width="1.80" stroke-dasharray="7.6 2.7" />
<text transform="translate(498.30 48.00) scale(0.875 1)" font-size="8.70" text-anchor="start" font-weight="normal" stroke="#000" stroke-width="0.55" >IMR90-Reduced</text>
<line x1="468.50" y1="54.80" x2="494.90" y2="54.80" stroke="#00ff00" stroke-width="1.80" stroke-dasharray="7.6 2.7" />
<text transform="translate(498.30 57.30) scale(0.875 1)" font-size="8.70" text-anchor="start" font-weight="normal" stroke="#000" stroke-width="0.55" >IMR90-10</text>
<line x1="468.50" y1="64.20" x2="494.90" y2="64.20" stroke="#0000ff" stroke-width="1.80" stroke-dasharray="6.6 0.6 1.8 0.6" />
<text transform="translate(498.30 66.70) scale(0.875 1)" font-size="8.70" text-anchor="start" font-weight="normal" stroke="#000" stroke-width="0.55" >IMR90-5</text>
<line x1="87.92" y1="269.00" x2="87.92" y2="449.50" stroke="#dddddd" stroke-width="1.00" />
<line x1="133.74" y1="269.00" x2="133.74" y2="449.50" stroke="#dddddd" stroke-width="1.00" />
<line x1="179.56" y1="269.00" x2="179.56" y2="449.50" stroke="#dddddd" stroke-width="1.00" />
<line x1="225.38" y1="269.00" x2="225.38" y2="449.50" stroke="#dddddd" stroke-width="1.00" />
<line x1="42.10" y1="431.45" x2="271.20" y2="431.45" stroke="#dddddd" stroke-width="1.00" />
<line x1="42.10" y1="413.40" x2="271.20" y2="413.40" stroke="#dddddd" stroke-width="1.00" />
<line x1="42.10" y1="395.35" x2="271.20" y2="395.35" stroke="#dddddd" stroke-width="1.00" />
<line x1="42.10" y1="377.30" x2="271.20" y2="377.30" stroke="#dddddd" stroke-width="1.00" />
<line x1="42.10" y1="359.25" x2="271.20" y2="359.25" stroke="#dddddd" stroke-width="1.00" />
<line x1="42.10" y1="341.20" x2="271.20" y2="341.20" stroke="#dddddd" stroke-width="1.00" />
<line x1="42.10" y1="323.15" x2="271.20" y2="323.15" stroke="#dddddd" stroke-width="1.00" />
<line x1="42.10" y1="305.10" x2="271.20" y2="305.10" stroke="#dddddd" stroke-width="1.00" />
<line x1="42.10" y1="287.05" x2="271.20" y2="287.05" stroke="#dddddd" stroke-width="1.00" />
<line x1="41.30" y1="269.00" x2="272.00" y2="269.00" stroke="#3c3c3c" stroke-width="1.70" />
<line x1="271.20" y1="269.00" x2="271.20" y2="449.50" stroke="#484848" stroke-width="1.60" />
<line x1="41.30" y1="449.50" x2="272.00" y2="449.50" stroke="#1a1a1a" stroke-width="1.40" />
<g clip-path="url(#cc)">
<path d="M42.30 290.00 C42.38 287.67 42.52 278.63 42.80 276.00 C43.08 273.37 42.80 274.57 44.00 274.20 C45.20 273.83 47.33 273.87 50.00 273.80 C52.67 273.73 57.05 273.73 60.00 273.80 C62.95 273.88 65.08 273.77 67.70 274.25 C70.32 274.73 73.05 275.69 75.70 276.70 C78.35 277.71 81.62 279.37 83.60 280.32 C85.58 281.27 84.95 280.89 87.60 282.43 C90.25 283.97 96.20 287.50 99.50 289.55 C102.80 291.61 104.75 292.98 107.40 294.76 C110.05 296.54 112.30 298.12 115.40 300.25 C118.50 302.38 122.95 305.46 126.00 307.53 C129.05 309.60 130.67 310.69 133.70 312.66 C136.73 314.63 140.70 317.18 144.20 319.36 C147.70 321.54 150.88 323.48 154.70 325.72 C158.52 327.96 162.95 330.53 167.10 332.81 C171.25 335.09 174.95 337.05 179.60 339.39 C184.25 341.73 189.88 344.50 195.00 346.84 C200.12 349.18 205.18 351.38 210.30 353.46 C215.42 355.53 221.32 357.71 225.70 359.29 C230.08 360.87 232.97 361.78 236.60 362.92 C240.23 364.06 243.68 365.10 247.50 366.14 C251.32 367.18 255.50 368.25 259.50 369.18 C263.50 370.11 269.50 371.28 271.50 371.70" fill="none" stroke="#0000ff" stroke-width="1.70" stroke-dasharray="1.9 0.7" stroke-linejoin="round"/>
<path d="M42.60 274.60 C42.83 274.50 42.77 274.13 44.00 274.00 C45.23 273.87 47.33 273.83 50.00 273.80 C52.67 273.77 57.05 273.70 60.00 273.80 C62.95 273.90 65.08 273.79 67.70 274.39 C70.32 274.99 73.05 276.20 75.70 277.37 C78.35 278.54 81.62 280.38 83.60 281.43 C85.58 282.48 84.95 282.09 87.60 283.68 C90.25 285.27 96.20 288.88 99.50 290.96 C102.80 293.03 104.75 294.38 107.40 296.13 C110.05 297.88 112.30 299.41 115.40 301.48 C118.50 303.55 122.95 306.55 126.00 308.56 C129.05 310.57 130.67 311.63 133.70 313.55 C136.73 315.47 140.70 317.96 144.20 320.09 C147.70 322.22 150.88 324.13 154.70 326.33 C158.52 328.53 162.95 331.05 167.10 333.30 C171.25 335.55 174.95 337.50 179.60 339.82 C184.25 342.14 189.88 344.89 195.00 347.23 C200.12 349.57 205.18 351.77 210.30 353.85 C215.42 355.93 221.32 358.11 225.70 359.70 C230.08 361.29 232.97 362.22 236.60 363.37 C240.23 364.52 243.68 365.56 247.50 366.62 C251.32 367.68 255.50 368.76 259.50 369.70 C263.50 370.64 269.50 371.82 271.50 372.25" fill="none" stroke="#ff00ff" stroke-width="1.80" stroke-dasharray="7.6 2.7" stroke-linejoin="round"/>
<path d="M42.60 274.60 C42.83 274.50 42.77 274.13 44.00 274.00 C45.23 273.87 47.33 273.82 50.00 273.80 C52.67 273.78 57.05 273.68 60.00 273.90 C62.95 274.12 65.08 274.26 67.70 275.11 C70.32 275.96 72.38 277.11 75.70 279.00 C79.02 280.89 83.63 283.84 87.60 286.46 C91.57 289.07 94.87 291.42 99.50 294.69 C104.13 297.96 110.98 302.95 115.40 306.10 C119.82 309.25 122.95 311.46 126.00 313.58 C129.05 315.69 130.67 316.81 133.70 318.79 C136.73 320.77 140.70 323.31 144.20 325.45 C147.70 327.59 150.88 329.48 154.70 331.62 C158.52 333.76 162.95 336.18 167.10 338.31 C171.25 340.44 174.95 342.25 179.60 344.38 C184.25 346.51 189.88 348.99 195.00 351.10 C200.12 353.21 205.18 355.17 210.30 357.03 C215.42 358.89 221.32 360.83 225.70 362.27 C230.08 363.70 232.97 364.56 236.60 365.64 C240.23 366.72 243.68 367.70 247.50 368.74 C251.32 369.78 255.50 370.87 259.50 371.88 C263.50 372.89 269.50 374.31 271.50 374.80" fill="none" stroke="#00ff00" stroke-width="1.80" stroke-linejoin="round"/>
<path d="M42.60 274.60 C42.83 274.50 42.77 274.13 44.00 274.00 C45.23 273.87 47.33 273.80 50.00 273.80 C52.67 273.80 57.05 273.61 60.00 274.00 C62.95 274.39 65.08 275.14 67.70 276.13 C70.32 277.12 72.38 278.01 75.70 279.96 C79.02 281.91 83.63 284.99 87.60 287.81 C91.57 290.63 94.87 293.23 99.50 296.91 C104.13 300.59 110.98 306.31 115.40 309.89 C119.82 313.46 122.95 315.99 126.00 318.36 C129.05 320.73 130.67 321.99 133.70 324.12 C136.73 326.25 140.70 328.97 144.20 331.17 C147.70 333.37 150.88 335.25 154.70 337.34 C158.52 339.43 162.95 341.72 167.10 343.71 C171.25 345.70 174.95 347.33 179.60 349.26 C184.25 351.19 189.88 353.38 195.00 355.28 C200.12 357.18 205.18 358.97 210.30 360.68 C215.42 362.39 221.32 364.22 225.70 365.57 C230.08 366.92 232.97 367.73 236.60 368.76 C240.23 369.79 243.68 370.73 247.50 371.73 C251.32 372.73 255.50 373.79 259.50 374.76 C263.50 375.73 269.50 377.09 271.50 377.56" fill="none" stroke="#000000" stroke-width="1.80" stroke-dasharray="6.6 0.6 1.8 0.6" stroke-linejoin="round"/>
<path d="M42.60 274.60 C42.83 274.50 42.77 274.13 44.00 274.00 C45.23 273.87 47.33 273.82 50.00 273.80 C52.67 273.78 57.05 273.64 60.00 273.90 C62.95 274.16 65.08 274.57 67.70 275.38 C70.32 276.19 72.38 277.03 75.70 278.77 C79.02 280.51 83.63 283.24 87.60 285.81 C91.57 288.38 94.87 290.74 99.50 294.18 C104.13 297.62 110.98 303.04 115.40 306.46 C119.82 309.88 122.95 312.38 126.00 314.71 C129.05 317.04 130.67 318.30 133.70 320.47 C136.73 322.65 140.70 325.44 144.20 327.76 C147.70 330.08 150.88 332.10 154.70 334.38 C158.52 336.66 162.95 339.22 167.10 341.45 C171.25 343.68 174.95 345.55 179.60 347.73 C184.25 349.91 189.88 352.42 195.00 354.52 C200.12 356.62 205.18 358.54 210.30 360.35 C215.42 362.16 221.32 364.01 225.70 365.38 C230.08 366.75 232.97 367.54 236.60 368.55 C240.23 369.56 243.68 370.47 247.50 371.44 C251.32 372.41 255.50 373.41 259.50 374.35 C263.50 375.29 269.50 376.61 271.50 377.06" fill="none" stroke="#ff0000" stroke-width="1.80" stroke-dasharray="7.6 2.7" stroke-linejoin="round"/>
<path d="M42.60 274.60 C42.83 274.50 42.77 274.13 44.00 274.00 C45.23 273.87 47.37 273.68 50.00 273.80 C52.63 273.92 56.85 274.04 59.80 274.70 C62.75 275.36 65.05 276.26 67.70 277.77 C70.35 279.27 72.38 281.13 75.70 283.73 C79.02 286.33 83.63 290.13 87.60 293.37 C91.57 296.61 94.87 299.39 99.50 303.14 C104.13 306.88 111.30 312.63 115.40 315.84 C119.50 319.04 121.05 320.17 124.10 322.37 C127.15 324.57 130.35 326.85 133.70 329.05 C137.05 331.25 140.70 333.54 144.20 335.59 C147.70 337.64 150.88 339.40 154.70 341.37 C158.52 343.34 162.95 345.50 167.10 347.38 C171.25 349.26 174.95 350.81 179.60 352.63 C184.25 354.45 189.88 356.52 195.00 358.30 C200.12 360.08 205.18 361.73 210.30 363.32 C215.42 364.91 221.32 366.59 225.70 367.84 C230.08 369.09 232.97 369.84 236.60 370.80 C240.23 371.76 243.68 372.64 247.50 373.60 C251.32 374.56 255.50 375.58 259.50 376.54 C263.50 377.50 269.50 378.91 271.50 379.38" fill="none" stroke="#00ff00" stroke-width="1.80" stroke-dasharray="7.6 2.7" stroke-linejoin="round"/>
<path d="M42.30 320.00 C42.42 315.00 42.63 296.83 43.00 290.00 C43.37 283.17 43.73 281.62 44.50 279.00 C45.27 276.38 46.37 275.02 47.60 274.30 C48.83 273.58 50.40 274.10 51.90 274.70 C53.40 275.30 54.62 276.05 56.60 277.90 C58.58 279.75 61.15 283.08 63.80 285.78 C66.45 288.48 69.73 291.53 72.50 294.12 C75.27 296.71 77.88 299.10 80.40 301.34 C82.92 303.58 84.95 305.35 87.60 307.58 C90.25 309.81 93.00 312.12 96.30 314.71 C99.60 317.30 104.28 320.85 107.40 323.15 C110.52 325.45 111.90 326.41 115.00 328.49 C118.10 330.57 122.88 333.67 126.00 335.61 C129.12 337.56 130.67 338.46 133.70 340.16 C136.73 341.86 140.70 344.03 144.20 345.81 C147.70 347.59 150.88 349.12 154.70 350.82 C158.52 352.52 162.95 354.39 167.10 356.00 C171.25 357.61 174.95 358.92 179.60 360.47 C184.25 362.02 189.88 363.79 195.00 365.31 C200.12 366.83 205.18 368.25 210.30 369.61 C215.42 370.97 221.32 372.42 225.70 373.49 C230.08 374.56 232.97 375.20 236.60 376.02 C240.23 376.84 243.68 377.59 247.50 378.39 C251.32 379.19 255.50 380.04 259.50 380.83 C263.50 381.62 269.50 382.74 271.50 383.12" fill="none" stroke="#0000ff" stroke-width="1.80" stroke-dasharray="6.6 0.6 1.8 0.6" stroke-linejoin="round"/>
</g>
<line x1="42.10" y1="268.20" x2="42.10" y2="274.00" stroke="#333" stroke-width="1.80" />
<line x1="42.10" y1="273.50" x2="42.10" y2="306.00" stroke="#0000ff" stroke-width="1.80" />
<line x1="42.10" y1="305.00" x2="42.10" y2="346.00" stroke="#0070b0" stroke-width="1.70" />
<line x1="42.10" y1="345.00" x2="42.10" y2="450.20" stroke="#5a5aff" stroke-width="1.50" />
<line x1="87.92" y1="449.50" x2="87.92" y2="447.10" stroke="#222" stroke-width="1.00" />
<line x1="87.92" y1="269.00" x2="87.92" y2="271.40" stroke="#555" stroke-width="1.00" />
<line x1="133.74" y1="449.50" x2="133.74" y2="447.10" stroke="#222" stroke-width="1.00" />
<line x1="133.74" y1="269.00" x2="133.74" y2="271.40" stroke="#555" stroke-width="1.00" />
<line x1="179.56" y1="449.50" x2="179.56" y2="447.10" stroke="#222" stroke-width="1.00" />
<line x1="179.56" y1="269.00" x2="179.56" y2="271.40" stroke="#555" stroke-width="1.00" />
<line x1="225.38" y1="449.50" x2="225.38" y2="447.10" stroke="#222" stroke-width="1.00" />
<line x1="225.38" y1="269.00" x2="225.38" y2="271.40" stroke="#555" stroke-width="1.00" />
<line x1="42.10" y1="431.45" x2="45.30" y2="431.45" stroke="#222" stroke-width="1.00" />
<line x1="271.20" y1="431.45" x2="268.80" y2="431.45" stroke="#333" stroke-width="1.00" />
<line x1="42.10" y1="413.40" x2="45.30" y2="413.40" stroke="#222" stroke-width="1.00" />
<line x1="271.20" y1="413.40" x2="268.80" y2="413.40" stroke="#333" stroke-width="1.00" />
<line x1="42.10" y1="395.35" x2="45.30" y2="395.35" stroke="#222" stroke-width="1.00" />
<line x1="271.20" y1="395.35" x2="268.80" y2="395.35" stroke="#333" stroke-width="1.00" />
<line x1="42.10" y1="377.30" x2="45.30" y2="377.30" stroke="#222" stroke-width="1.00" />
<line x1="271.20" y1="377.30" x2="268.80" y2="377.30" stroke="#333" stroke-width="1.00" />
<line x1="42.10" y1="359.25" x2="45.30" y2="359.25" stroke="#222" stroke-width="1.00" />
<line x1="271.20" y1="359.25" x2="268.80" y2="359.25" stroke="#333" stroke-width="1.00" />
<line x1="42.10" y1="341.20" x2="45.30" y2="341.20" stroke="#222" stroke-width="1.00" />
<line x1="271.20" y1="341.20" x2="268.80" y2="341.20" stroke="#333" stroke-width="1.00" />
<line x1="42.10" y1="323.15" x2="45.30" y2="323.15" stroke="#222" stroke-width="1.00" />
<line x1="271.20" y1="323.15" x2="268.80" y2="323.15" stroke="#333" stroke-width="1.00" />
<line x1="42.10" y1="305.10" x2="45.30" y2="305.10" stroke="#222" stroke-width="1.00" />
<line x1="271.20" y1="305.10" x2="268.80" y2="305.10" stroke="#333" stroke-width="1.00" />
<line x1="42.10" y1="287.05" x2="45.30" y2="287.05" stroke="#222" stroke-width="1.00" />
<line x1="271.20" y1="287.05" x2="268.80" y2="287.05" stroke="#333" stroke-width="1.00" />
<text transform="translate(42.10 459.60) scale(0.840 1)" font-size="9.90" text-anchor="middle" font-weight="normal" stroke="#000" stroke-width="0.55" >0</text>
<text transform="translate(87.92 459.60) scale(0.840 1)" font-size="9.90" text-anchor="middle" font-weight="normal" stroke="#000" stroke-width="0.55" >1</text>
<text transform="translate(133.74 459.60) scale(0.840 1)" font-size="9.90" text-anchor="middle" font-weight="normal" stroke="#000" stroke-width="0.55" >2</text>
<text transform="translate(179.56 459.60) scale(0.840 1)" font-size="9.90" text-anchor="middle" font-weight="normal" stroke="#000" stroke-width="0.55" >3</text>
<text transform="translate(225.38 459.60) scale(0.840 1)" font-size="9.90" text-anchor="middle" font-weight="normal" stroke="#000" stroke-width="0.55" >4</text>
<text transform="translate(271.20 459.60) scale(0.840 1)" font-size="9.90" text-anchor="middle" font-weight="normal" stroke="#000" stroke-width="0.55" >5</text>
<text transform="translate(38.60 452.44) scale(0.840 1)" font-size="9.90" text-anchor="end" font-weight="normal" stroke="#000" stroke-width="0.55" >0</text>
<text transform="translate(38.60 434.39) scale(0.840 1)" font-size="9.90" text-anchor="end" font-weight="normal" stroke="#000" stroke-width="0.55" >0.1</text>
<text transform="translate(38.60 416.34) scale(0.840 1)" font-size="9.90" text-anchor="end" font-weight="normal" stroke="#000" stroke-width="0.55" >0.2</text>
<text transform="translate(38.60 398.29) scale(0.840 1)" font-size="9.90" text-anchor="end" font-weight="normal" stroke="#000" stroke-width="0.55" >0.3</text>
<text transform="translate(38.60 380.24) scale(0.840 1)" font-size="9.90" text-anchor="end" font-weight="normal" stroke="#000" stroke-width="0.55" >0.4</text>
<text transform="translate(38.60 362.19) scale(0.840 1)" font-size="9.90" text-anchor="end" font-weight="normal" stroke="#000" stroke-width="0.55" >0.5</text>
<text transform="translate(38.60 344.14) scale(0.840 1)" font-size="9.90" text-anchor="end" font-weight="normal" stroke="#000" stroke-width="0.55" >0.6</text>
<text transform="translate(38.60 326.09) scale(0.840 1)" font-size="9.90" text-anchor="end" font-weight="normal" stroke="#000" stroke-width="0.55" >0.7</text>
<text transform="translate(38.60 308.04) scale(0.840 1)" font-size="9.90" text-anchor="end" font-weight="normal" stroke="#000" stroke-width="0.55" >0.8</text>
<text transform="translate(38.60 289.99) scale(0.840 1)" font-size="9.90" text-anchor="end" font-weight="normal" stroke="#000" stroke-width="0.55" >0.9</text>
<text transform="translate(38.60 271.94) scale(0.840 1)" font-size="9.90" text-anchor="end" font-weight="normal" stroke="#000" stroke-width="0.55" >1</text>
<text transform="translate(155.45 469.80) scale(0.990 1)" font-size="9.26" text-anchor="middle" font-weight="normal" stroke="#000" stroke-width="0.50" >Number of predictions</text>
<text transform="translate(21.50 359.25) rotate(-90)" font-size="9.85" text-anchor="middle" font-weight="normal" stroke="#000" stroke-width="0.50" >Validation rate</text>
<text transform="translate(156.45 264.90) scale(0.900 1)" font-size="10.30" text-anchor="middle" font-weight="bold" stroke="#000" stroke-width="0.50" >HEPG2</text>
<text x="251.00" y="472.20" font-size="9.31" stroke="#000" stroke-width="0.39">×<tspan dx="1.30">10</tspan><tspan dy="-3.91" font-size="8.00">5</tspan></text>
<text transform="translate(-1.00 261.50)" font-size="19.50" text-anchor="start" font-weight="bold" stroke="#000" stroke-width="0.70" >c</text>
<rect x="188.40" y="277.60" width="75.00" height="66.60" fill="#fff" stroke="#2e2e2e" stroke-width="1.1"/>
<line x1="193.20" y1="283.90" x2="218.10" y2="283.90" stroke="#0000ff" stroke-width="1.70" stroke-dasharray="1.9 0.7" />
<text transform="translate(221.80 286.40) scale(0.875 1)" font-size="8.30" text-anchor="start" font-weight="normal" stroke="#000" stroke-width="0.55" >HEPG2-Full</text>
<line x1="193.20" y1="292.80" x2="218.10" y2="292.80" stroke="#ff00ff" stroke-width="1.80" stroke-dasharray="7.6 2.7" />
<text transform="translate(221.80 295.30) scale(0.875 1)" font-size="8.30" text-anchor="start" font-weight="normal" stroke="#000" stroke-width="0.55" >HEPG2-160</text>
<line x1="193.20" y1="301.80" x2="218.10" y2="301.80" stroke="#00ff00" stroke-width="1.80" />
<text transform="translate(221.80 304.30) scale(0.875 1)" font-size="8.30" text-anchor="start" font-weight="normal" stroke="#000" stroke-width="0.55" >HEPG2-100</text>
<line x1="193.20" y1="310.70" x2="218.10" y2="310.70" stroke="#000000" stroke-width="1.80" stroke-dasharray="6.6 0.6 1.8 0.6" />
<text transform="translate(221.80 313.20) scale(0.875 1)" font-size="8.30" text-anchor="start" font-weight="normal" stroke="#000" stroke-width="0.55" >HEPG2-70</text>
<line x1="193.20" y1="319.70" x2="218.10" y2="319.70" stroke="#ff0000" stroke-width="1.80" stroke-dasharray="7.6 2.7" />
<text transform="translate(221.80 322.20) scale(0.875 1)" font-size="8.30" text-anchor="start" font-weight="normal" stroke="#000" stroke-width="0.55" >HEPG2-40</text>
<line x1="193.20" y1="328.70" x2="218.10" y2="328.70" stroke="#00ff00" stroke-width="1.10" stroke-dasharray="7.6 2.7" />
<text transform="translate(221.80 331.20) scale(0.875 1)" font-size="8.30" text-anchor="start" font-weight="normal" stroke="#000" stroke-width="0.55" >HEPG2-10</text>
<line x1="193.20" y1="337.70" x2="218.10" y2="337.70" stroke="#0000ff" stroke-width="1.80" stroke-dasharray="6.6 0.6 1.8 0.6" />
<text transform="translate(221.80 340.20) scale(0.875 1)" font-size="8.30" text-anchor="start" font-weight="normal" stroke="#000" stroke-width="0.55" >HEPG2-5</text>
<line x1="370.18" y1="269.00" x2="370.18" y2="449.50" stroke="#dddddd" stroke-width="1.00" />
<line x1="416.16" y1="269.00" x2="416.16" y2="449.50" stroke="#dddddd" stroke-width="1.00" />
<line x1="462.14" y1="269.00" x2="462.14" y2="449.50" stroke="#dddddd" stroke-width="1.00" />
<line x1="508.12" y1="269.00" x2="508.12" y2="449.50" stroke="#dddddd" stroke-width="1.00" />
<line x1="324.20" y1="431.45" x2="554.10" y2="431.45" stroke="#dddddd" stroke-width="1.00" />
<line x1="324.20" y1="413.40" x2="554.10" y2="413.40" stroke="#dddddd" stroke-width="1.00" />
<line x1="324.20" y1="395.35" x2="554.10" y2="395.35" stroke="#dddddd" stroke-width="1.00" />
<line x1="324.20" y1="377.30" x2="554.10" y2="377.30" stroke="#dddddd" stroke-width="1.00" />
<line x1="324.20" y1="359.25" x2="554.10" y2="359.25" stroke="#dddddd" stroke-width="1.00" />
<line x1="324.20" y1="341.20" x2="554.10" y2="341.20" stroke="#dddddd" stroke-width="1.00" />
<line x1="324.20" y1="323.15" x2="554.10" y2="323.15" stroke="#dddddd" stroke-width="1.00" />
<line x1="324.20" y1="305.10" x2="554.10" y2="305.10" stroke="#dddddd" stroke-width="1.00" />
<line x1="324.20" y1="287.05" x2="554.10" y2="287.05" stroke="#dddddd" stroke-width="1.00" />
<line x1="323.40" y1="269.00" x2="554.90" y2="269.00" stroke="#3c3c3c" stroke-width="1.70" />
<line x1="554.10" y1="269.00" x2="554.10" y2="449.50" stroke="#484848" stroke-width="1.60" />
<line x1="323.40" y1="449.50" x2="554.90" y2="449.50" stroke="#1a1a1a" stroke-width="1.40" />
<g clip-path="url(#cd)">
<path d="M324.50 290.00 C324.62 287.83 324.70 279.87 325.20 277.00 C325.70 274.13 326.05 273.48 327.50 272.80 C328.95 272.12 331.52 272.58 333.90 272.90 C336.28 273.22 339.17 273.82 341.80 274.70 C344.43 275.58 347.05 276.72 349.70 278.20 C352.35 279.68 355.05 281.83 357.70 283.60 C360.35 285.37 363.53 287.52 365.60 288.80 C367.67 290.08 367.45 289.95 370.10 291.30 C372.75 292.65 376.95 294.68 381.50 296.90 C386.05 299.12 392.98 302.50 397.40 304.60 C401.82 306.70 404.92 308.10 408.00 309.50 C411.08 310.90 412.77 311.55 415.90 313.00 C419.03 314.45 423.17 316.48 426.80 318.20 C430.43 319.92 433.83 321.57 437.70 323.30 C441.57 325.03 445.90 326.87 450.00 328.60 C454.10 330.33 457.63 331.90 462.30 333.70 C466.97 335.50 472.88 337.58 478.00 339.40 C483.12 341.22 488.00 342.97 493.00 344.60 C498.00 346.23 503.67 347.90 508.00 349.20 C512.33 350.50 515.25 351.38 519.00 352.40 C522.75 353.42 526.58 354.35 530.50 355.30 C534.42 356.25 538.50 357.23 542.50 358.10 C546.50 358.97 552.50 360.10 554.50 360.50" fill="none" stroke="#0000ff" stroke-width="1.70" stroke-dasharray="1.9 0.7" stroke-linejoin="round"/>
<path d="M324.60 272.50 C324.83 272.38 324.45 271.88 326.00 271.80 C327.55 271.72 331.27 271.70 333.90 272.00 C336.53 272.30 339.17 272.73 341.80 273.57 C344.43 274.41 347.05 275.83 349.70 277.02 C352.35 278.21 354.30 279.11 357.70 280.72 C361.10 282.33 366.13 284.74 370.10 286.67 C374.07 288.60 376.95 290.03 381.50 292.31 C386.05 294.59 392.98 298.10 397.40 300.33 C401.82 302.56 404.92 304.14 408.00 305.70 C411.08 307.26 412.77 308.12 415.90 309.69 C419.03 311.26 423.17 313.34 426.80 315.14 C430.43 316.94 433.83 318.62 437.70 320.47 C441.57 322.33 445.90 324.38 450.00 326.27 C454.10 328.15 457.63 329.78 462.30 331.78 C466.97 333.78 472.88 336.25 478.00 338.25 C483.12 340.25 488.00 342.03 493.00 343.76 C498.00 345.49 503.63 347.27 508.00 348.62 C512.37 349.97 515.45 350.83 519.20 351.85 C522.95 352.88 526.62 353.82 530.50 354.77 C534.38 355.72 538.50 356.66 542.50 357.53 C546.50 358.40 552.50 359.57 554.50 359.98" fill="none" stroke="#ff00ff" stroke-width="1.80" stroke-dasharray="7.6 2.7" stroke-linejoin="round"/>
<path d="M324.60 272.50 C324.83 272.32 324.45 271.55 326.00 271.40 C327.55 271.25 331.27 271.39 333.90 271.60 C336.53 271.81 339.17 272.09 341.80 272.65 C344.43 273.21 347.05 274.06 349.70 274.95 C352.35 275.83 354.30 276.54 357.70 277.96 C361.10 279.38 366.13 281.61 370.10 283.45 C374.07 285.29 376.95 286.75 381.50 289.00 C386.05 291.25 392.98 294.72 397.40 296.97 C401.82 299.22 404.92 300.87 408.00 302.49 C411.08 304.12 412.77 305.05 415.90 306.72 C419.03 308.39 423.17 310.61 426.80 312.52 C430.43 314.43 433.83 316.20 437.70 318.16 C441.57 320.12 445.90 322.29 450.00 324.27 C454.10 326.25 457.63 327.96 462.30 330.04 C466.97 332.12 472.88 334.70 478.00 336.77 C483.12 338.83 488.00 340.66 493.00 342.43 C498.00 344.20 503.63 346.01 508.00 347.38 C512.37 348.75 515.45 349.62 519.20 350.66 C522.95 351.70 526.62 352.65 530.50 353.61 C534.38 354.57 538.50 355.54 542.50 356.43 C546.50 357.32 552.50 358.54 554.50 358.96" fill="none" stroke="#00ff00" stroke-width="1.00" stroke-linejoin="round"/>
<path d="M324.50 273.00 C324.75 272.77 324.43 271.80 326.00 271.60 C327.57 271.40 331.27 271.59 333.90 271.80 C336.53 272.01 339.17 272.29 341.80 272.85 C344.43 273.41 347.05 274.28 349.70 275.18 C352.35 276.08 354.30 276.81 357.70 278.25 C361.10 279.69 366.13 281.97 370.10 283.83 C374.07 285.69 376.95 287.16 381.50 289.42 C386.05 291.68 392.98 295.14 397.40 297.38 C401.82 299.62 404.92 301.26 408.00 302.88 C411.08 304.50 412.77 305.45 415.90 307.12 C419.03 308.79 423.17 311.01 426.80 312.92 C430.43 314.83 433.83 316.60 437.70 318.56 C441.57 320.52 445.90 322.70 450.00 324.68 C454.10 326.66 457.63 328.36 462.30 330.44 C466.97 332.52 472.88 335.11 478.00 337.17 C483.12 339.24 488.00 341.06 493.00 342.83 C498.00 344.60 503.63 346.41 508.00 347.78 C512.37 349.15 515.45 350.02 519.20 351.06 C522.95 352.10 526.62 353.05 530.50 354.01 C534.38 354.97 538.50 355.94 542.50 356.83 C546.50 357.72 552.50 358.94 554.50 359.36" fill="none" stroke="#000000" stroke-width="1.80" stroke-dasharray="6.6 0.6 1.8 0.6" stroke-linejoin="round"/>
<path d="M324.60 272.50 C324.83 272.35 324.45 271.63 326.00 271.60 C327.55 271.57 331.27 271.37 333.90 272.30 C336.53 273.23 339.17 275.63 341.80 277.16 C344.43 278.69 347.05 280.04 349.70 281.46 C352.35 282.88 354.30 283.60 357.70 285.68 C361.10 287.76 366.13 291.16 370.10 293.93 C374.07 296.70 376.95 299.13 381.50 302.28 C386.05 305.43 392.98 310.02 397.40 312.81 C401.82 315.60 404.92 317.25 408.00 318.99 C411.08 320.73 412.77 321.62 415.90 323.23 C419.03 324.84 423.17 326.92 426.80 328.65 C430.43 330.38 433.83 331.93 437.70 333.60 C441.57 335.27 445.90 337.06 450.00 338.67 C454.10 340.28 457.63 341.62 462.30 343.24 C466.97 344.86 472.88 346.82 478.00 348.40 C483.12 349.98 488.00 351.37 493.00 352.72 C498.00 354.08 503.63 355.47 508.00 356.53 C512.37 357.59 515.45 358.28 519.20 359.10 C522.95 359.92 526.62 360.69 530.50 361.47 C534.38 362.25 538.50 363.05 542.50 363.80 C546.50 364.55 552.50 365.62 554.50 365.99" fill="none" stroke="#00ff00" stroke-width="1.80" stroke-dasharray="7.6 2.7" stroke-linejoin="round"/>
<path d="M324.50 300.00 C324.62 296.33 324.70 282.50 325.20 278.00 C325.70 273.50 326.70 273.87 327.50 273.00 C328.30 272.13 328.93 272.52 330.00 272.80 C331.07 273.08 331.93 273.56 333.90 274.70 C335.87 275.84 339.17 278.17 341.80 279.65 C344.43 281.13 347.05 282.32 349.70 283.58 C352.35 284.84 354.30 285.65 357.70 287.22 C361.10 288.79 366.13 291.12 370.10 293.00 C374.07 294.88 376.95 296.25 381.50 298.52 C386.05 300.79 392.98 304.35 397.40 306.61 C401.82 308.87 404.92 310.49 408.00 312.07 C411.08 313.65 412.77 314.53 415.90 316.10 C419.03 317.67 423.17 319.72 426.80 321.47 C430.43 323.23 433.83 324.85 437.70 326.63 C441.57 328.41 445.90 330.38 450.00 332.17 C454.10 333.96 457.63 335.49 462.30 337.39 C466.97 339.29 472.88 341.64 478.00 343.56 C483.12 345.48 488.00 347.23 493.00 348.92 C498.00 350.61 503.63 352.38 508.00 353.71 C512.37 355.04 515.45 355.91 519.20 356.92 C522.95 357.93 526.62 358.85 530.50 359.77 C534.38 360.69 538.50 361.61 542.50 362.42 C546.50 363.23 552.50 364.26 554.50 364.63" fill="none" stroke="#0000ff" stroke-width="1.80" stroke-dasharray="6.6 0.6 1.8 0.6" stroke-linejoin="round"/>
</g>
<line x1="324.20" y1="268.20" x2="324.20" y2="272.00" stroke="#333" stroke-width="1.80" />
<line x1="323.50" y1="271.50" x2="323.50" y2="450.20" stroke="#4a9a9a" stroke-width="1.00" />
<line x1="324.40" y1="271.50" x2="324.40" y2="450.20" stroke="#1010f0" stroke-width="1.40" />
<line x1="370.18" y1="449.50" x2="370.18" y2="447.10" stroke="#222" stroke-width="1.00" />
<line x1="370.18" y1="269.00" x2="370.18" y2="271.40" stroke="#555" stroke-width="1.00" />
<line x1="416.16" y1="449.50" x2="416.16" y2="447.10" stroke="#222" stroke-width="1.00" />
<line x1="416.16" y1="269.00" x2="416.16" y2="271.40" stroke="#555" stroke-width="1.00" />
<line x1="462.14" y1="449.50" x2="462.14" y2="447.10" stroke="#222" stroke-width="1.00" />
<line x1="462.14" y1="269.00" x2="462.14" y2="271.40" stroke="#555" stroke-width="1.00" />
<line x1="508.12" y1="449.50" x2="508.12" y2="447.10" stroke="#222" stroke-width="1.00" />
<line x1="508.12" y1="269.00" x2="508.12" y2="271.40" stroke="#555" stroke-width="1.00" />
<line x1="324.20" y1="431.45" x2="327.40" y2="431.45" stroke="#222" stroke-width="1.00" />
<line x1="554.10" y1="431.45" x2="551.70" y2="431.45" stroke="#333" stroke-width="1.00" />
<line x1="324.20" y1="413.40" x2="327.40" y2="413.40" stroke="#222" stroke-width="1.00" />
<line x1="554.10" y1="413.40" x2="551.70" y2="413.40" stroke="#333" stroke-width="1.00" />
<line x1="324.20" y1="395.35" x2="327.40" y2="395.35" stroke="#222" stroke-width="1.00" />
<line x1="554.10" y1="395.35" x2="551.70" y2="395.35" stroke="#333" stroke-width="1.00" />
<line x1="324.20" y1="377.30" x2="327.40" y2="377.30" stroke="#222" stroke-width="1.00" />
<line x1="554.10" y1="377.30" x2="551.70" y2="377.30" stroke="#333" stroke-width="1.00" />
<line x1="324.20" y1="359.25" x2="327.40" y2="359.25" stroke="#222" stroke-width="1.00" />
<line x1="554.10" y1="359.25" x2="551.70" y2="359.25" stroke="#333" stroke-width="1.00" />
<line x1="324.20" y1="341.20" x2="327.40" y2="341.20" stroke="#222" stroke-width="1.00" />
<line x1="554.10" y1="341.20" x2="551.70" y2="341.20" stroke="#333" stroke-width="1.00" />
<line x1="324.20" y1="323.15" x2="327.40" y2="323.15" stroke="#222" stroke-width="1.00" />
<line x1="554.10" y1="323.15" x2="551.70" y2="323.15" stroke="#333" stroke-width="1.00" />
<line x1="324.20" y1="305.10" x2="327.40" y2="305.10" stroke="#222" stroke-width="1.00" />
<line x1="554.10" y1="305.10" x2="551.70" y2="305.10" stroke="#333" stroke-width="1.00" />
<line x1="324.20" y1="287.05" x2="327.40" y2="287.05" stroke="#222" stroke-width="1.00" />
<line x1="554.10" y1="287.05" x2="551.70" y2="287.05" stroke="#333" stroke-width="1.00" />
<text transform="translate(324.20 459.60) scale(0.840 1)" font-size="9.90" text-anchor="middle" font-weight="normal" stroke="#000" stroke-width="0.55" >0</text>
<text transform="translate(370.18 459.60) scale(0.840 1)" font-size="9.90" text-anchor="middle" font-weight="normal" stroke="#000" stroke-width="0.55" >1</text>
<text transform="translate(416.16 459.60) scale(0.840 1)" font-size="9.90" text-anchor="middle" font-weight="normal" stroke="#000" stroke-width="0.55" >2</text>
<text transform="translate(462.14 459.60) scale(0.840 1)" font-size="9.90" text-anchor="middle" font-weight="normal" stroke="#000" stroke-width="0.55" >3</text>
<text transform="translate(508.12 459.60) scale(0.840 1)" font-size="9.90" text-anchor="middle" font-weight="normal" stroke="#000" stroke-width="0.55" >4</text>
<text transform="translate(554.10 459.60) scale(0.840 1)" font-size="9.90" text-anchor="middle" font-weight="normal" stroke="#000" stroke-width="0.55" >5</text>
<text transform="translate(320.70 452.44) scale(0.840 1)" font-size="9.90" text-anchor="end" font-weight="normal" stroke="#000" stroke-width="0.55" >0</text>
<text transform="translate(320.70 434.39) scale(0.840 1)" font-size="9.90" text-anchor="end" font-weight="normal" stroke="#000" stroke-width="0.55" >0.1</text>
<text transform="translate(320.70 416.34) scale(0.840 1)" font-size="9.90" text-anchor="end" font-weight="normal" stroke="#000" stroke-width="0.55" >0.2</text>
<text transform="translate(320.70 398.29) scale(0.840 1)" font-size="9.90" text-anchor="end" font-weight="normal" stroke="#000" stroke-width="0.55" >0.3</text>
<text transform="translate(320.70 380.24) scale(0.840 1)" font-size="9.90" text-anchor="end" font-weight="normal" stroke="#000" stroke-width="0.55" >0.4</text>
<text transform="translate(320.70 362.19) scale(0.840 1)" font-size="9.90" text-anchor="end" font-weight="normal" stroke="#000" stroke-width="0.55" >0.5</text>
<text transform="translate(320.70 344.14) scale(0.840 1)" font-size="9.90" text-anchor="end" font-weight="normal" stroke="#000" stroke-width="0.55" >0.6</text>
<text transform="translate(320.70 326.09) scale(0.840 1)" font-size="9.90" text-anchor="end" font-weight="normal" stroke="#000" stroke-width="0.55" >0.7</text>
<text transform="translate(320.70 308.04) scale(0.840 1)" font-size="9.90" text-anchor="end" font-weight="normal" stroke="#000" stroke-width="0.55" >0.8</text>
<text transform="translate(320.70 289.99) scale(0.840 1)" font-size="9.90" text-anchor="end" font-weight="normal" stroke="#000" stroke-width="0.55" >0.9</text>
<text transform="translate(320.70 271.94) scale(0.840 1)" font-size="9.90" text-anchor="end" font-weight="normal" stroke="#000" stroke-width="0.55" >1</text>
<text transform="translate(437.95 469.80) scale(0.990 1)" font-size="9.26" text-anchor="middle" font-weight="normal" stroke="#000" stroke-width="0.50" >Number of predictions</text>
<text transform="translate(304.00 359.25) rotate(-90)" font-size="9.85" text-anchor="middle" font-weight="normal" stroke="#000" stroke-width="0.50" >Validation rate</text>
<text transform="translate(438.65 265.30) scale(0.900 1)" font-size="10.30" text-anchor="middle" font-weight="bold" stroke="#000" stroke-width="0.50" >HELAS3</text>
<text x="534.00" y="472.20" font-size="9.31" stroke="#000" stroke-width="0.39">×<tspan dx="1.30">10</tspan><tspan dy="-3.91" font-size="8.00">5</tspan></text>
<text transform="translate(293.50 261.50)" font-size="19.50" text-anchor="start" font-weight="bold" stroke="#000" stroke-width="0.70" >d</text>
<rect x="468.20" y="277.90" width="77.90" height="57.30" fill="#fff" stroke="#2e2e2e" stroke-width="1.1"/>
<line x1="472.40" y1="284.10" x2="498.30" y2="284.10" stroke="#0000ff" stroke-width="1.70" stroke-dasharray="1.9 0.7" />
<text transform="translate(501.20 286.60) scale(0.875 1)" font-size="8.30" text-anchor="start" font-weight="normal" stroke="#000" stroke-width="0.55" >HELAS3-Full</text>
<line x1="472.40" y1="293.20" x2="498.30" y2="293.20" stroke="#ff00ff" stroke-width="1.80" stroke-dasharray="7.6 2.7" />
<text transform="translate(501.20 295.70) scale(0.875 1)" font-size="8.30" text-anchor="start" font-weight="normal" stroke="#000" stroke-width="0.55" >HELAS3-160</text>
<line x1="472.40" y1="302.30" x2="498.30" y2="302.30" stroke="#00ff00" stroke-width="1.00" />
<text transform="translate(501.20 304.80) scale(0.875 1)" font-size="8.30" text-anchor="start" font-weight="normal" stroke="#000" stroke-width="0.55" >HELAS3-100</text>
<line x1="472.40" y1="311.40" x2="498.30" y2="311.40" stroke="#000000" stroke-width="1.80" stroke-dasharray="6.6 0.6 1.8 0.6" />
<text transform="translate(501.20 313.90) scale(0.875 1)" font-size="8.30" text-anchor="start" font-weight="normal" stroke="#000" stroke-width="0.55" >HELAS3-80</text>
<line x1="472.40" y1="320.50" x2="498.30" y2="320.50" stroke="#00ff00" stroke-width="1.80" stroke-dasharray="7.6 2.7" />
<text transform="translate(501.20 323.00) scale(0.875 1)" font-size="8.30" text-anchor="start" font-weight="normal" stroke="#000" stroke-width="0.55" >HELAS3-10</text>
<line x1="472.40" y1="329.60" x2="498.30" y2="329.60" stroke="#0000ff" stroke-width="1.80" stroke-dasharray="6.6 0.6 1.8 0.6" />
<text transform="translate(501.20 332.10) scale(0.875 1)" font-size="8.30" text-anchor="start" font-weight="normal" stroke="#000" stroke-width="0.55" >HELAS3-5</text>
</svg>
</body></html>
